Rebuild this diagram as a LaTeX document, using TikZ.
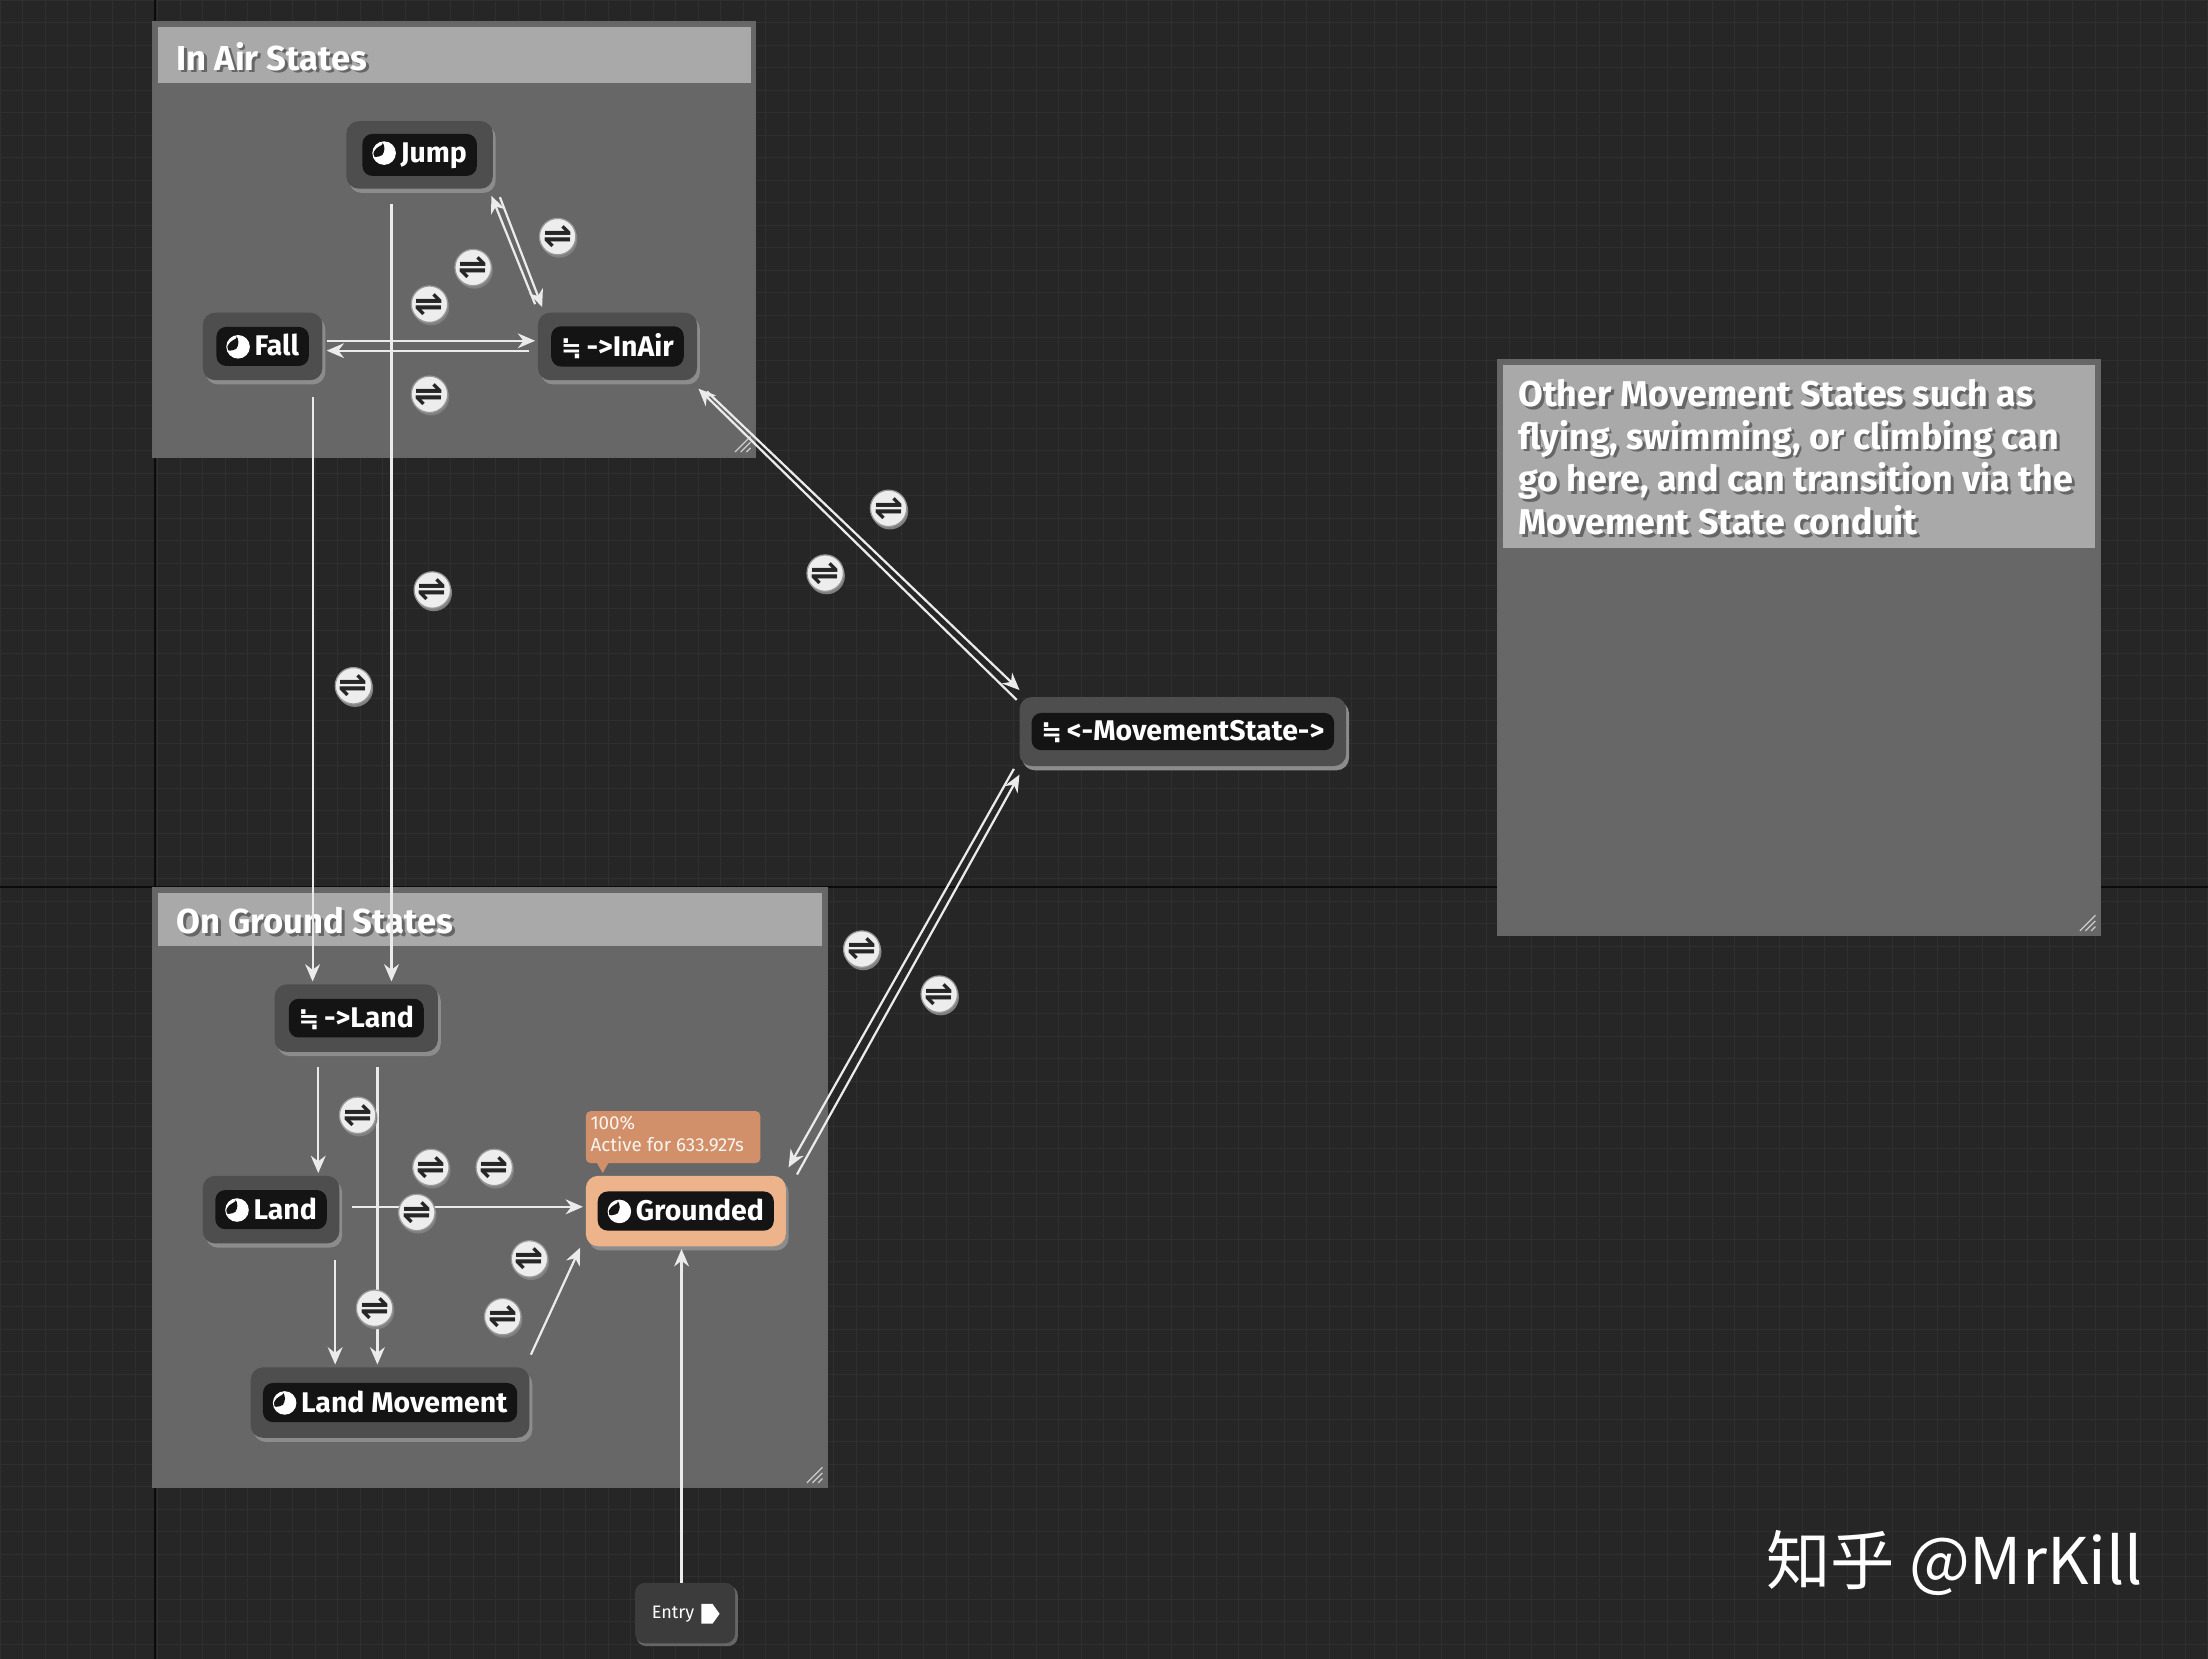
\documentclass[tikz,border=0pt]{standalone}
\usepackage{fontspec}
\setmainfont{Fira Sans}
\newfontfamily\djv{DejaVu Sans}
\newfontfamily\cjk{Noto Sans CJK SC}
\usetikzlibrary{arrows.meta}
\definecolor{bg}{HTML}{262626}
\definecolor{gridc}{HTML}{2F2F2F}
\definecolor{cbody}{HTML}{676767}
\definecolor{chead}{HTML}{A9A9A9}
\definecolor{nouter}{HTML}{4E4E4E}
\definecolor{ninner}{HTML}{141414}
\definecolor{peach}{HTML}{EDB48C}
\definecolor{tip}{HTML}{D2906A}
\definecolor{entryc}{HTML}{3C3C3C}
\tikzset{
  pill/.style={fill=ninner,rounded corners=4pt,text=white,font=\fontsize{11.5}{13}\selectfont\bfseries,inner xsep=4pt,inner ysep=3pt},
  wire/.style={draw=white!92!black,line width=0.9pt,-{Stealth[length=7pt,width=6pt]}},
  trans/.style={circle,fill=white!93!black,draw=black!40,line width=0.5pt,minimum size=0.5cm,inner sep=0pt,font=\djv\fontsize{14}{14}\selectfont\bfseries,text=black!85},
  hdr/.style={font=\fontsize{14}{15}\selectfont\bfseries,text=white,anchor=west},
}
\newcommand{\stateicon}{\tikz[baseline=-0.6ex,x=1cm,y=1cm]{\fill[white](0,0)circle(0.16);\fill[ninner](-0.113,-0.113) arc(225:45:0.125)--cycle;\draw[white,line width=0.4pt](0,0)circle(0.16);}}
\newcommand{\condicon}{{\djv\fontsize{10}{10}\selectfont ≒}}
\begin{document}
\begin{tikzpicture}[x=0.02cm,y=-0.02cm]
\fill[bg] (0,0) rectangle (1568,1178);
\useasboundingbox (0,0) rectangle (1568,1178);
\begin{scope}
\clip (0,0) rectangle (1568,1178);
\draw[gridc,line width=0.4pt,step=0.32cm] (0,0) grid (1568,1178);
\draw[black!70!bg,line width=1pt] (110,0)--(110,1178) (0,630)--(1568,630);
\end{scope}
% comment boxes
\fill[black!60] (108,15) rectangle (537,325);
\fill[cbody] (110,17) rectangle (535,323);
\fill[chead] (112,19) rectangle (533,59);
\node[hdr,text=black!60] (hairsh) at (121,42) {In Air States};
\node[hdr] (hair) at (119,40) {In Air States};
\fill[black!60] (108,630) rectangle (588,1057);
\fill[cbody] (110,632) rectangle (586,1055);
\fill[chead] (112,634) rectangle (584,672);
\node[hdr,text=black!60] (hgrsh) at (121,656) {On Ground States};
\node[hdr] (hgr) at (119,654) {On Ground States};
\fill[black!60] (1063,255) rectangle (1492,665);
\fill[cbody] (1065,257) rectangle (1490,663);
\fill[chead] (1067,259) rectangle (1488,389);
\node[hdr,anchor=north west,align=left,text=black!60,font=\fontsize{14.5}{17.3}\selectfont\bfseries] (hothsh) at (1074,265) {Other Movement States such as\\flying, swimming, or climbing can\\go here, and can transition via the\\Movement State conduit};
\node[hdr,anchor=north west,align=left,font=\fontsize{14.5}{17.3}\selectfont\bfseries] (hoth) at (1072,263) {Other Movement States such as\\flying, swimming, or climbing can\\go here, and can transition via the\\Movement State conduit};
\foreach \x/\y in {533/321,584/1053,1488/661}{
  \draw[white!80!black,line width=0.5pt] (\x-3,\y)--(\x,\y-3) (\x-7,\y)--(\x,\y-7) (\x-11,\y)--(\x,\y-11);}
% nodes
\newcommand{\snode}[6]{%
  \fill[black!45,rounded corners=5pt] (#2+2,#3+3) rectangle (#4+2,#5+3);
  \fill[nouter,rounded corners=5pt] (#2,#3) rectangle (#4,#5);
  \node[pill] (#1) at ({(#2+#4)/2},{(#3+#5)/2}) {#6};}
\snode{jump}{246}{86}{350}{134}{\stateicon\,Jump}
\snode{fall}{144}{222}{229}{270}{\stateicon\,Fall}
\snode{inair}{382}{222}{495}{270}{\condicon\,->InAir}
\snode{mstate}{724}{495}{956}{544}{\condicon\,<-MovementState->}
\snode{lcond}{195}{699}{311}{747}{\condicon\,->Land}
\snode{land}{144}{835}{241}{883}{\stateicon\,Land}
\snode{lmove}{178}{971}{376}{1021}{\stateicon\,Land Movement}
\fill[black!45,rounded corners=5pt] (418,838) rectangle (560,888);
\fill[peach,rounded corners=5pt] (416,835) rectangle (558,885);
\node[pill] (grounded) at (487,860) {\stateicon\,Grounded};
\fill[tip,rounded corners=2pt] (416,789) rectangle (540,826);
\fill[tip] (424,826)--(432,826)--(428,833)--cycle;
\node[anchor=north west,align=left,text=white!90!tip,font=\fontsize{7.6}{9}\selectfont,inner sep=0pt] (tiptext) at (419,792) {100\%\\Active for 633.927s};
\fill[black!60,rounded corners=4pt] (452,1126) rectangle (524,1169);
\fill[entryc,rounded corners=4pt] (451,1124) rectangle (522,1167);
\node[text=white,font=\fontsize{7.3}{9}\selectfont,inner sep=0pt] (entry) at (478,1146) {Entry};
\fill[white] (498,1139)--(506,1139)--(511,1146)--(506,1153)--(498,1153)--cycle;
\coordinate (entryTop) at (484,1124);
% wires
\coordinate (a1) at (355,140); \coordinate (a2) at (385,218);
\coordinate (a3) at (380,216); \coordinate (a4) at (349,139);
\draw[wire] (a1) -- (a2);
\draw[wire] (a3) -- (a4);
\coordinate (f1) at (232,242); \coordinate (f2) at (380,242);
\draw[wire] (f1) -- (f2);
\coordinate (f3) at (376,249); \coordinate (f4) at (232,249);
\draw[wire] (f3) -- (f4);
\coordinate (m1) at (502,278); \coordinate (m2) at (724,490);
\draw[wire] (m1) -- (m2);
\coordinate (m3) at (722,497); \coordinate (m4) at (496,276);
\draw[wire] (m3) -- (m4);
\coordinate (g1) at (720,546); \coordinate (g2) at (560,829);
\draw[wire] (g1) -- (g2);
\coordinate (g3) at (566,834); \coordinate (g4) at (724,550);
\draw[wire] (g3) -- (g4);
\coordinate (fd) at (222,282); \coordinate (fdE) at (222,697);
\draw[wire] (fd) -- (fdE);
\coordinate (jd) at (278,145); \coordinate (jdE) at (278,697);
\draw[wire] (jd) -- (jdE);
\coordinate (l1) at (226,758); \coordinate (l1E) at (226,833);
\draw[wire] (l1) -- (l1E);
\coordinate (l2) at (268,758); \coordinate (l2E) at (268,969);
\draw[wire] (l2) -- (l2E);
\coordinate (lg) at (250,857); \coordinate (lgE) at (414,857);
\draw[wire] (lg) -- (lgE);
\coordinate (ll) at (238,895); \coordinate (llE) at (238,969);
\draw[wire] (ll) -- (llE);
\coordinate (mg) at (377,962); \coordinate (mgE) at (412,886);
\draw[wire] (mg) -- (mgE);
\coordinate (eg) at (484,887);
\draw[wire] (entryTop) -- (eg);
% transition icons
\foreach \x/\y [count=\i] in {396/168,336/190,305/216,305/280,631/361,586/407,307/419,251/487,612/674,667/706,254/792,306/829,351/829,296/861,376/894,357/935,266/929}{
  \fill[black!50] (\x+1,\y+2) circle (13);
  \node[trans] (t\i) at (\x,\y) {⇌};}
\node[text=white,font=\cjk\fontsize{26}{30}\selectfont,anchor=east] (wm) at (1528,1110) {知乎 @MrKill};
\end{tikzpicture}
\end{document}
